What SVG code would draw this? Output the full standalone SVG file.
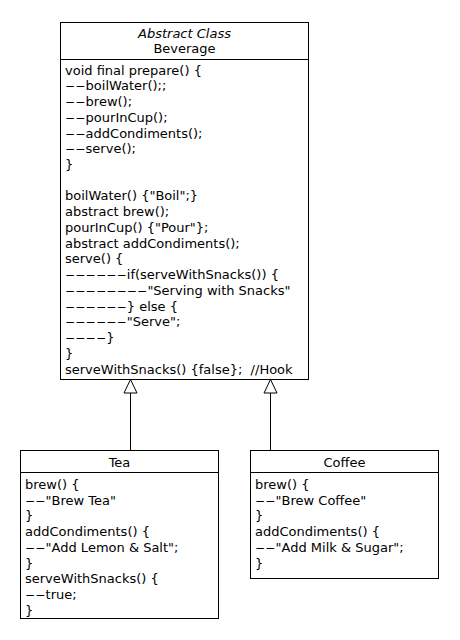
<svg xmlns="http://www.w3.org/2000/svg" width="460" height="640" viewBox="0 0 460 640">
<style>
text{font-family:"DejaVu Sans","Noto Sans",sans-serif;font-size:13px;fill:#000;white-space:pre}
.t{text-anchor:middle}
.i{font-style:italic}
.box{fill:#fff;stroke:#000;stroke-width:1}
.sep{stroke:#000;stroke-width:1}
.conn{stroke:#000;stroke-width:1;fill:none}
</style>
<defs>
<marker id="tri" markerUnits="userSpaceOnUse" markerWidth="16" markerHeight="16" viewBox="0 0 16 16" refX="14.5" refY="8" orient="auto">
<path d="M1,1.5 L14.5,8 L1,14.5 Z" fill="#fff" stroke="#000" stroke-width="1"/>
</marker>
</defs>
<rect width="460" height="640" fill="#fff"/>
<g id="connectors">
<line class="conn" x1="130.5" y1="450.5" x2="130.5" y2="379.5" marker-end="url(#tri)"/>
<line class="conn" x1="270.5" y1="450.5" x2="270.5" y2="379.5" marker-end="url(#tri)"/>
</g>
<g id="beverage">
<rect class="box" x="60.5" y="22.5" width="248" height="357"/>
<line class="sep" x1="60.5" y1="59.5" x2="308.5" y2="59.5"/>
<text class="t i" x="184.5" y="38">Abstract Class</text>
<text class="t" x="184.5" y="53">Beverage</text>
<text x="65" y="74.5">void final prepare() {</text>
<text x="65" y="90.2"><tspan textLength="20.6" lengthAdjust="spacingAndGlyphs">--</tspan>boilWater();;</text>
<text x="65" y="106"><tspan textLength="20.6" lengthAdjust="spacingAndGlyphs">--</tspan>brew();</text>
<text x="65" y="121.7"><tspan textLength="20.6" lengthAdjust="spacingAndGlyphs">--</tspan>pourInCup();</text>
<text x="65" y="137.5"><tspan textLength="20.6" lengthAdjust="spacingAndGlyphs">--</tspan>addCondiments();</text>
<text x="65" y="153.2"><tspan textLength="20.6" lengthAdjust="spacingAndGlyphs">--</tspan>serve();</text>
<text x="65" y="168.9">}</text>
<text x="65" y="200.4">boilWater() {"Boil";}</text>
<text x="65" y="216.1">abstract brew();</text>
<text x="65" y="231.8">pourInCup() {"Pour"};</text>
<text x="65" y="247.6">abstract addCondiments();</text>
<text x="65" y="263.3">serve() {</text>
<text x="65" y="279"><tspan textLength="61.8" lengthAdjust="spacingAndGlyphs">------</tspan>if(serveWithSnacks()) {</text>
<text x="65" y="294.8"><tspan textLength="82.4" lengthAdjust="spacingAndGlyphs">--------</tspan>"Serving with Snacks"</text>
<text x="65" y="310.5"><tspan textLength="61.8" lengthAdjust="spacingAndGlyphs">------</tspan>} else {</text>
<text x="65" y="326.3"><tspan textLength="61.8" lengthAdjust="spacingAndGlyphs">------</tspan>"Serve";</text>
<text x="65" y="342"><tspan textLength="41.2" lengthAdjust="spacingAndGlyphs">----</tspan>}</text>
<text x="65" y="357.7">}</text>
<text x="65" y="373.5" xml:space="preserve">serveWithSnacks() {false};  //Hook</text>
</g>
<g id="tea">
<rect class="box" x="20.5" y="450.5" width="198" height="168"/>
<line class="sep" x1="20.5" y1="472.5" x2="218.5" y2="472.5"/>
<text class="t" x="119.5" y="467">Tea</text>
<text x="25" y="489">brew() {</text>
<text x="25" y="504.7"><tspan textLength="20.6" lengthAdjust="spacingAndGlyphs">--</tspan>"Brew Tea"</text>
<text x="25" y="520.4">}</text>
<text x="25" y="536.1">addCondiments() {</text>
<text x="25" y="551.8"><tspan textLength="20.6" lengthAdjust="spacingAndGlyphs">--</tspan>"Add Lemon &amp; Salt";</text>
<text x="25" y="567.5">}</text>
<text x="25" y="583.2">serveWithSnacks() {</text>
<text x="25" y="598.9"><tspan textLength="20.6" lengthAdjust="spacingAndGlyphs">--</tspan>true;</text>
<text x="25" y="614.6">}</text>
</g>
<g id="coffee">
<rect class="box" x="250.5" y="450.5" width="188" height="128"/>
<line class="sep" x1="250.5" y1="472.5" x2="438.5" y2="472.5"/>
<text class="t" x="344.5" y="467">Coffee</text>
<text x="255" y="489">brew() {</text>
<text x="255" y="504.7"><tspan textLength="20.6" lengthAdjust="spacingAndGlyphs">--</tspan>"Brew Coffee"</text>
<text x="255" y="520.4">}</text>
<text x="255" y="536.1">addCondiments() {</text>
<text x="255" y="551.8"><tspan textLength="20.6" lengthAdjust="spacingAndGlyphs">--</tspan>"Add Milk &amp; Sugar";</text>
<text x="255" y="567.5">}</text>
</g>
</svg>
